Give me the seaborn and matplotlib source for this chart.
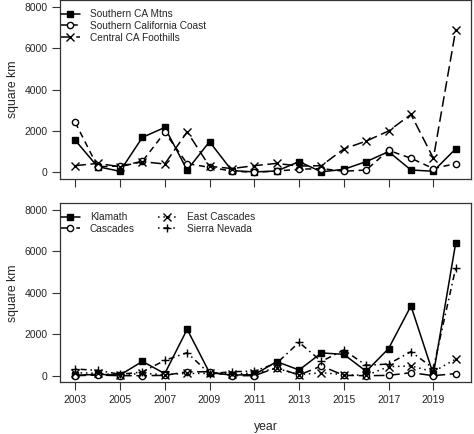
import numpy as np
import pandas as pd
import seaborn as sns
import matplotlib.pyplot as plt

years = list(range(2003, 2021))

# panel superior
south_mtns = [1550, 270, 50, 1690, 2170, 110, 1480, 80, 20, 60, 515, 20, 145, 515, 1000, 110, 50, 1140]
south_coast = [2415, 270, 300, 530, 1930, 420, 240, 60, 0, 60, 145, 180, 50, 110, 1060, 680, 180, 420]
central_foot = [320, 430, 270, 515, 400, 1960, 290, 180, 320, 430, 300, 320, 1130, 1510, 2000, 2800, 680, 6900]

# panel inferior
klamath = [20, 65, 30, 690, 100, 2240, 145, 30, 50, 680, 275, 1100, 1030, 210, 1310, 3370, 65, 6420]
cascades = [0, 30, 0, 0, 15, 190, 190, 0, 0, 390, 30, 470, 15, 0, 15, 145, 0, 100]
east_casc = [145, 110, 30, 110, 50, 110, 110, 80, 130, 355, 50, 145, 50, 15, 435, 470, 190, 805]
sierra = [320, 260, 65, 180, 740, 1110, 100, 190, 225, 600, 1610, 690, 1240, 500, 565, 1160, 355, 5210]

sns.set_theme(style="ticks")
plt.rcParams["font.family"] = ["Liberation Sans", "DejaVu Sans"]

fig = plt.figure(figsize=(4.74, 4.34), dpi=100)
ax1 = fig.add_axes([0.1266, 0.5878, 0.867, 0.4113])
ax2 = fig.add_axes([0.1266, 0.1191, 0.867, 0.4122])

estilos = {
    "solid": "-",
    "dashed": (0, (4, 3)),
    "longdash": (0, (7, 3)),
    "dotted": (0, (1, 2.5)),
    "dotdash": (0, (1, 2.5, 4, 2.5)),
}

arriba = [
    ("Southern CA Mtns", south_mtns, "s", "solid", "black"),
    ("Southern California Coast", south_coast, "o", "dashed", "white"),
    ("Central CA Foothills", central_foot, "x", "longdash", "black"),
]
abajo = [
    ("Klamath", klamath, "s", "solid", "black"),
    ("Cascades", cascades, "o", "longdash", "white"),
    ("East Cascades", east_casc, "x", "dotted", "black"),
    ("Sierra Nevada", sierra, "+", "dotdash", "black"),
]

for ax, series in [(ax1, arriba), (ax2, abajo)]:
    for nombre, vals, mk, ls, fc in series:
        df = pd.DataFrame({"year": years, "km": vals})
        ms = 4 if mk == "s" else (4.5 if mk == "o" else 6)
        sns.lineplot(data=df, x="year", y="km", ax=ax, color="black",
                     linestyle=estilos[ls], linewidth=1.1, marker=mk,
                     markersize=ms, markerfacecolor=fc, markeredgecolor="black",
                     markeredgewidth=1.0, label=nombre)
    ax.set_xlim(2002.32, 2020.68)
    ax.set_ylim(-320, 8320)
    ax.set_yticks([0, 2000, 4000, 6000, 8000])
    ax.set_xticks(list(range(2003, 2021, 2)))
    ax.set_ylabel("square km", fontsize=8.8)
    ax.tick_params(axis="both", length=6, width=0.8, labelsize=7.5,
                   direction="out", color="#333333", pad=3)
    for sp in ax.spines.values():
        sp.set_visible(True)
        sp.set_linewidth(0.9)
        sp.set_color("#333333")
    ax.grid(False)

ax1.set_xlabel("")
ax1.tick_params(axis="x", labelbottom=False)
ax2.set_xlabel("year", fontsize=8.8, labelpad=12)

ley = dict(loc="upper left", frameon=False, fontsize=7.3, handlelength=1.85,
           handletextpad=1.0, labelspacing=0.17, borderaxespad=0.0,
           borderpad=0.0, bbox_to_anchor=(0.002, 0.951))
ax1.legend(**ley)
ax2.legend(ncol=2, columnspacing=2.3, **ley)

fig.savefig("out.png", dpi=100)
